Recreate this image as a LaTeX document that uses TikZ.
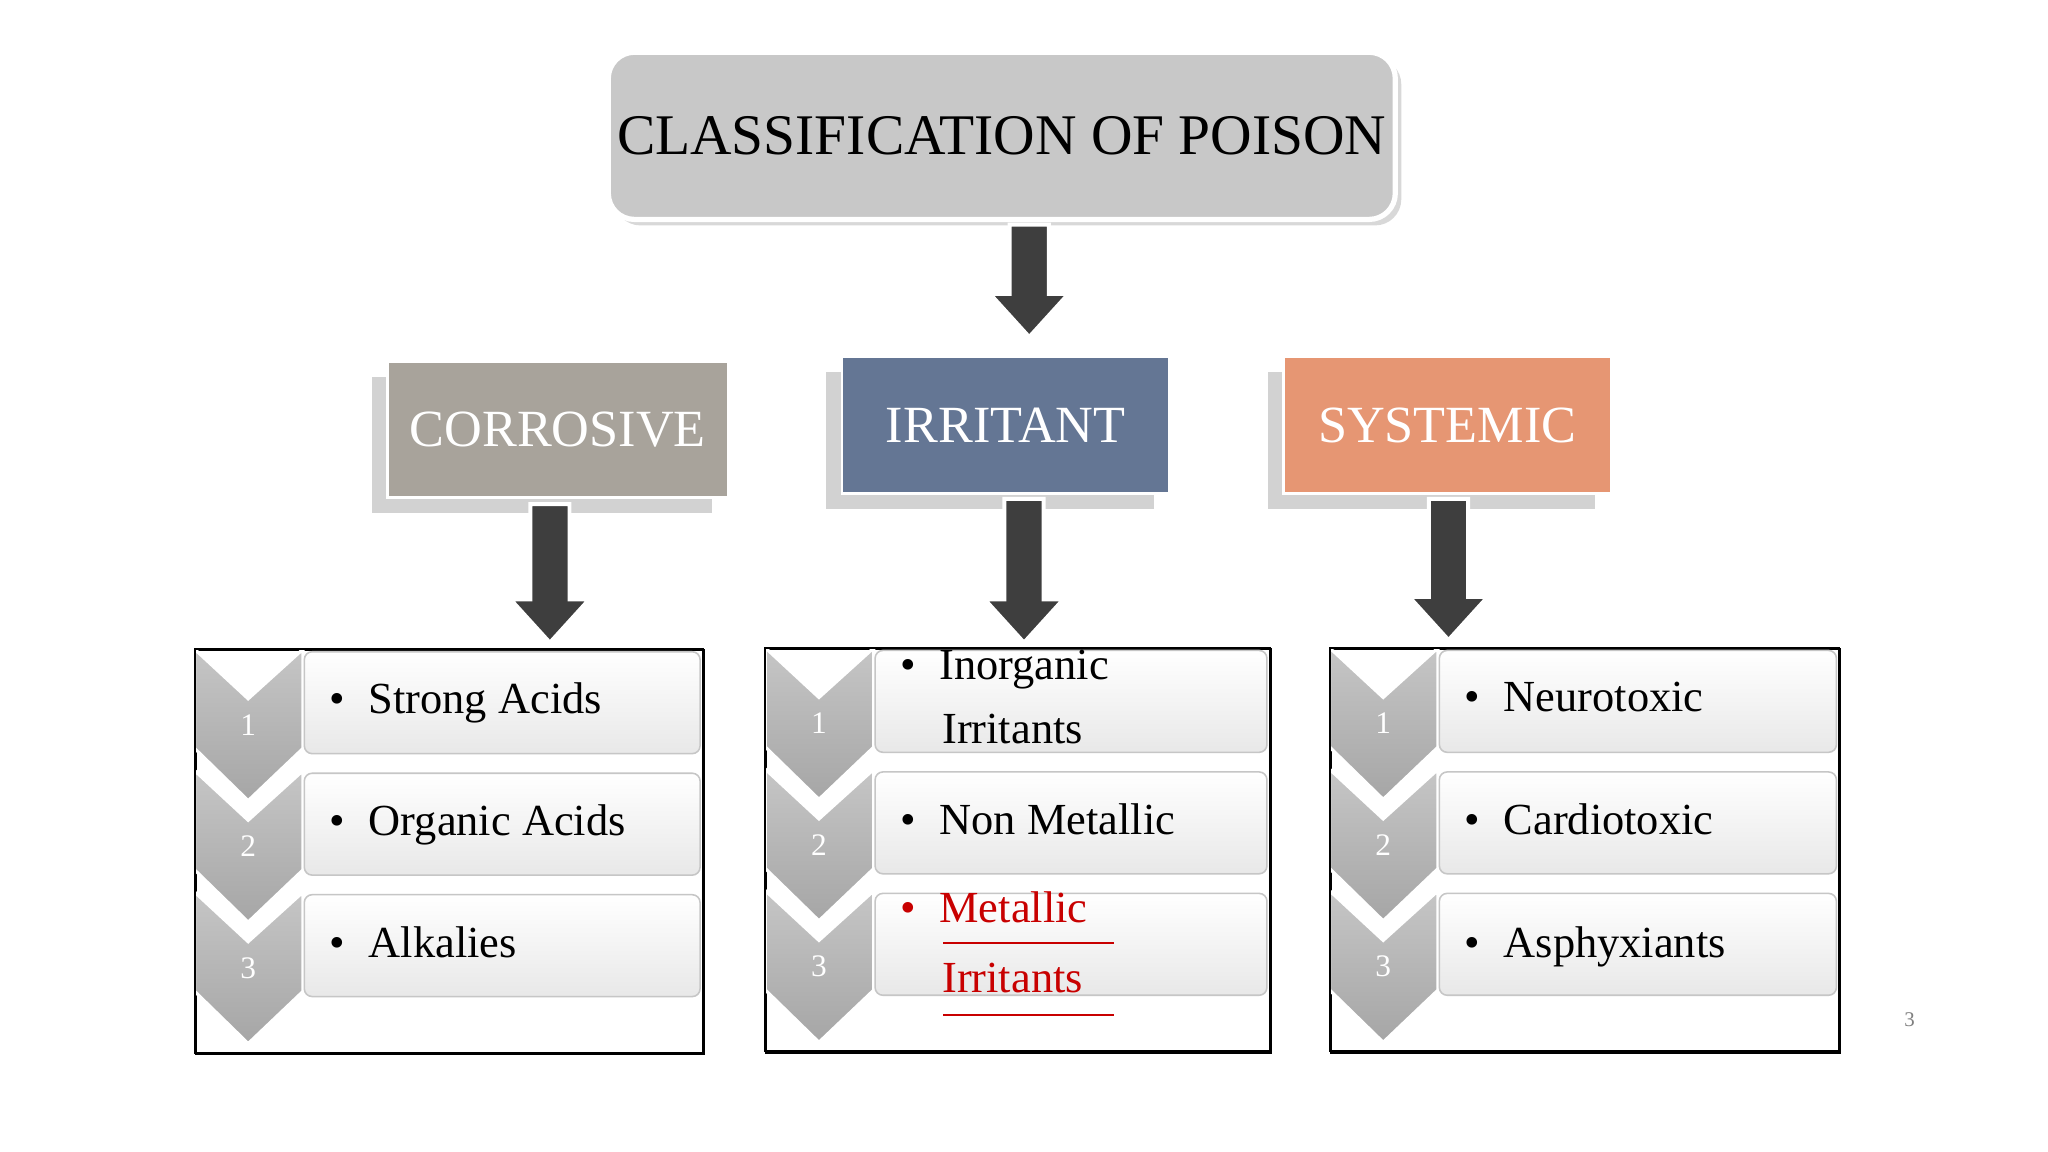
\documentclass[tikz,border=0pt]{standalone}
\usepackage{fontspec}
\setmainfont{Liberation Serif}
\usetikzlibrary{shadows}
\definecolor{tgray}{RGB}{200,200,200}
\definecolor{corc}{RGB}{168,163,155}
\definecolor{irrc}{RGB}{100,118,148}
\definecolor{sysc}{RGB}{230,150,115}
\definecolor{arr}{RGB}{62,62,62}
\definecolor{redt}{RGB}{200,0,0}
\begin{document}
\begin{tikzpicture}[x=0.5pt,y=-0.5pt,
  cat/.style={draw=white,line width=1pt,drop shadow={opacity=0.35,shadow xshift=-6pt,shadow yshift=-6pt},text=white,font=\fontsize{20}{24}\selectfont,inner sep=0pt},
  blk/.style={fill=arr,draw=white,line width=1.5pt},
  chev/.style={top color=gray!45,bottom color=gray!70,draw=white,line width=1.2pt},
  item/.style={top color=white,bottom color=gray!18,draw=gray!45,line width=0.6pt,rounded corners=3pt},
  itxt/.style={anchor=base west,font=\fontsize{17}{20}\selectfont,inner sep=0pt},
  num/.style={text=white,font=\fontsize{12}{14}\selectfont}]
\useasboundingbox (0,0) rectangle (1568,882);
\fill[white] (0,0) rectangle (1568,882);
% title
\node[fill=tgray,draw=white,line width=2pt,rounded corners=10pt,minimum width=565pt*0.5,minimum height=128pt*0.5,
  drop shadow={opacity=0.3},font=\fontsize{22}{26}\selectfont] (title) at (767,104) {CLASSIFICATION OF POISON};
% categories
\node[cat,fill=corc,minimum width=130.5pt,minimum height=52pt] (cor) at (427,329) {CORROSIVE};
\node[cat,fill=irrc,minimum width=125.5pt,minimum height=52.5pt] (irr) at (770,325.5) {IRRITANT};
\node[cat,fill=sysc,minimum width=125.5pt,minimum height=52.5pt] (sys) at (1108,325.5) {SYSTEMIC};
% block arrows
\newcommand\blkarrow[3]{\draw[blk] (#1-15,#2) -- (#1+15,#2) -- (#1+15,#3-33) -- (#1+30,#3-33) -- (#1,#3) -- (#1-30,#3-33) -- (#1-15,#3-33) -- cycle;}
\blkarrow{788}{172}{258}
\blkarrow{421}{386}{492}
\blkarrow{784}{382}{492}
\blkarrow{1109}{382}{490}
% panels
\node[draw=black,line width=0.8pt,minimum width=194.5pt,minimum height=154.5pt,anchor=north west,inner sep=0pt] (p1) at (149,497) {};
\node[draw=black,line width=0.8pt,minimum width=193pt,minimum height=154.5pt,anchor=north west,inner sep=0pt] (p2) at (586,496) {};
\node[draw=black,line width=0.8pt,minimum width=195pt,minimum height=154.5pt,anchor=north west,inner sep=0pt] (p3) at (1018,496) {};
\foreach \xa/\xb/\ty in {149/538/497,586/972/496,1018/1408/496}{
  \foreach \i in {1,2,3}{
    \pgfmathsetmacro\t{\ty+93*(\i-1)}
    \draw[chev] (\xa,\t) -- (\xa+41,\t+38) -- (\xa+83,\t) -- (\xa+83,\t+76) -- (\xa+41,\t+116) -- (\xa,\t+76) -- cycle;
    \draw[item] (\xa+84,\t+2) rectangle (\xb-2,\t+80);
    \node[num] at (\xa+41,\t+58) {\i};
  }
}
\draw[black,line width=0.8pt] (149,497) rectangle (538,806) (586,496) rectangle (972,805) (1018,496) rectangle (1408,805);
% texts
\node[itxt] (a1) at (252,546) {•\hspace{9pt}Strong Acids};
\node[itxt] (a2) at (252,640) {•\hspace{9pt}Organic Acids};
\node[itxt] (a3) at (252,733) {•\hspace{9pt}Alkalies};
\node[itxt] (b1) at (689,520) {•\hspace{9pt}Inorganic};
\node[itxt] (b1b) at (721,569) {Irritants};
\node[itxt] (b2) at (689,639) {•\hspace{9pt}Non Metallic};
\node[itxt,text=redt] (b3) at (689,706) {•\hspace{9pt}Metallic};
\node[itxt,text=redt] (b3b) at (721,760) {Irritants};
\draw[redt,line width=1pt] (722,722) -- (853,722) (722,777) -- (853,777);
\node[itxt] (c1) at (1121,545) {•\hspace{9pt}Neurotoxic};
\node[itxt] (c2) at (1121,639) {•\hspace{9pt}Cardiotoxic};
\node[itxt] (c3) at (1121,733) {•\hspace{9pt}Asphyxiants};
\node[text=gray,font=\fontsize{8}{10}\selectfont] (pg) at (1462,781) {3};
\end{tikzpicture}
\end{document}
